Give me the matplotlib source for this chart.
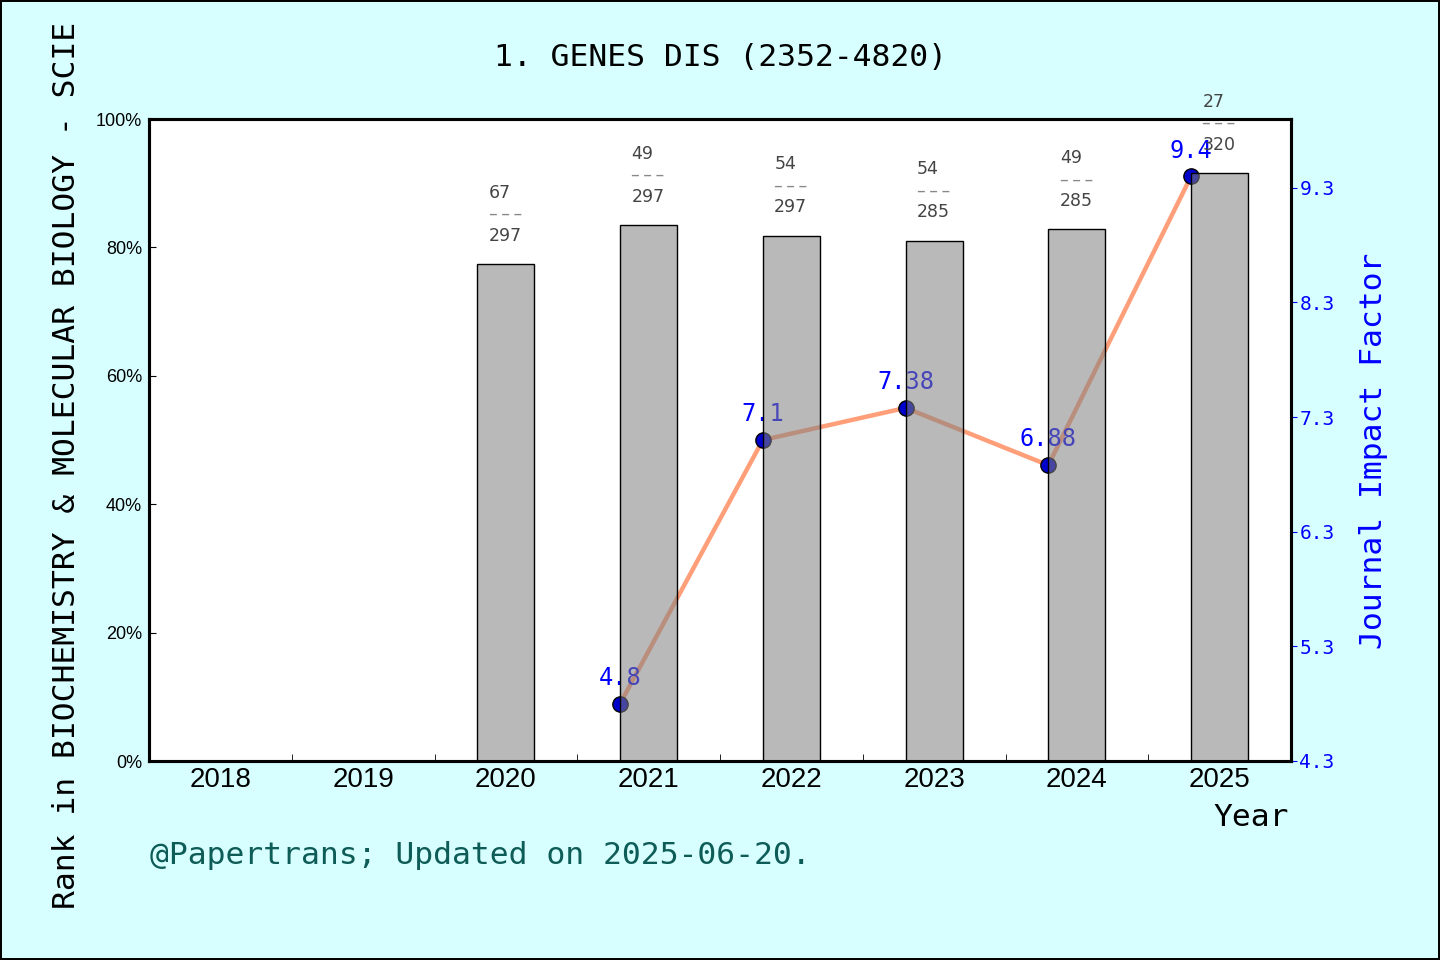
import numpy as np
import matplotlib.pyplot as plt

# Daten
years = ['2018', '2019', '2020', '2021', '2022', '2023', '2024', '2025']
rank = [None, None, 67, 49, 54, 54, 49, 27]
total = [None, None, 297, 297, 297, 285, 285, 320]
jif_years = ['2021', '2022', '2023', '2024', '2025']
jif = [4.8, 7.1, 7.38, 6.88, 9.4]
jif_labels = ['4.8', '7.1', '7.38', '6.88', '9.4']
pct_ticks = [0, 20, 40, 60, 80, 100]
jif_ticks = [4.3, 5.3, 6.3, 7.3, 8.3, 9.3]

bg = '#D7FFFF'
mono = ['DejaVu Sans Mono']
sans = ['Liberation Sans', 'DejaVu Sans']
bar_w = 0.4

fig = plt.figure(figsize=(14.4, 9.6), dpi=100, facecolor=bg,
                 edgecolor='black', linewidth=1.5)
rect = [149 / 1440, 1 - 761 / 960, 1142 / 1440, 642 / 960]
ax1 = fig.add_axes(rect)
ax2 = ax1.twinx()

# Linie hinten, Balken vorne (halbtransparent)
ax1.set_zorder(2)
ax1.patch.set_visible(False)
ax2.set_zorder(1)
ax2.patch.set_visible(True)
ax2.set_facecolor('white')

x = np.arange(len(years))
pct = [np.nan if r is None else (1 - r / t) * 100 for r, t in zip(rank, total)]
ax1.bar(x, pct, width=bar_w, facecolor=(0.5, 0.5, 0.5, 0.55),
        edgecolor='black', linewidth=1)

dash = '\u2013\u2009\u2013\u2009\u2013'
for xi, p, r, t in zip(x, pct, rank, total):
    if r is None:
        continue
    ax1.text(xi - 0.12, p + 3, f'{r}\n \n{t}', ha='left', va='bottom',
             fontsize=12.5, color='#444444', linespacing=1.25,
             family=['DejaVu Sans'], clip_on=False, zorder=2)
    ax1.text(xi - 0.12, p + 3, f' \n{dash}\n ', ha='left', va='bottom',
             fontsize=12.5, color='#888888', linespacing=1.25,
             family=['DejaVu Sans'], clip_on=False, zorder=2)

# Punkte sitzen an der linken Balkenkante
xj = np.array([years.index(y) for y in jif_years]) - bar_w / 2
ax2.plot(xj, jif, color='#FF9F7A', lw=3.2, zorder=2)
ax2.plot(xj, jif, 'o', ms=11, mfc='#0000CC', mec='black', mew=1, zorder=3)
for xi, v, lab in zip(xj, jif, jif_labels):
    ax2.text(xi, v + 0.12, lab, ha='center', va='bottom', fontsize=17,
             color='blue', family=mono, zorder=4)

ax1.set_xlim(-0.5, len(years) - 0.5)
ax1.set_ylim(0, 100)
ax2.set_ylim(4.3, 9.9)

ax1.set_xticks(x)
ax1.set_xticklabels(years, fontsize=20, family=sans)
ax1.set_xticks(np.arange(0.5, len(years) - 1, 1), minor=True)
ax1.tick_params(axis='x', which='major', length=0, pad=4)
ax1.tick_params(axis='x', which='minor', direction='in', length=5)

ax1.set_yticks(pct_ticks)
ax1.set_yticklabels([f'{v}%' for v in pct_ticks], fontsize=13, family=sans)
ax1.tick_params(axis='y', direction='in', length=5, pad=5)

ax2.set_yticks(jif_ticks)
ax2.set_yticklabels([f'{v:.1f}' for v in jif_ticks], fontsize=14,
                    family=mono, color='blue')
ax2.tick_params(axis='y', direction='out', length=4, colors='blue', pad=2)

for ax in (ax1, ax2):
    for s in ax.spines.values():
        s.set_linewidth(2.2)
        s.set_color('black')

fs = 22.6
fig.text(0.5, 1 - 57 / 960, '1. GENES DIS (2352-4820)', ha='center',
         va='center', fontsize=fs, family=mono)
fig.text(67 / 1440, 1 - 465 / 960,
         'Rank in BIOCHEMISTRY & MOLECULAR BIOLOGY - SCIE', rotation=90,
         ha='center', va='center', fontsize=fs, family=mono)
fig.text(1373 / 1440, 1 - 451 / 960, 'Journal Impact Factor', rotation=90,
         ha='center', va='center', fontsize=fs, family=mono, color='blue')
fig.text(1289 / 1440, 1 - 817 / 960, 'Year', ha='right', va='center',
         fontsize=fs, family=mono)
fig.text(150 / 1440, 1 - 855 / 960, '@Papertrans; Updated on 2025-06-20.',
         ha='left', va='center', fontsize=fs, family=mono, color='#0E5C57')

fig.savefig('out.png', dpi=100, facecolor=bg, edgecolor='black')
